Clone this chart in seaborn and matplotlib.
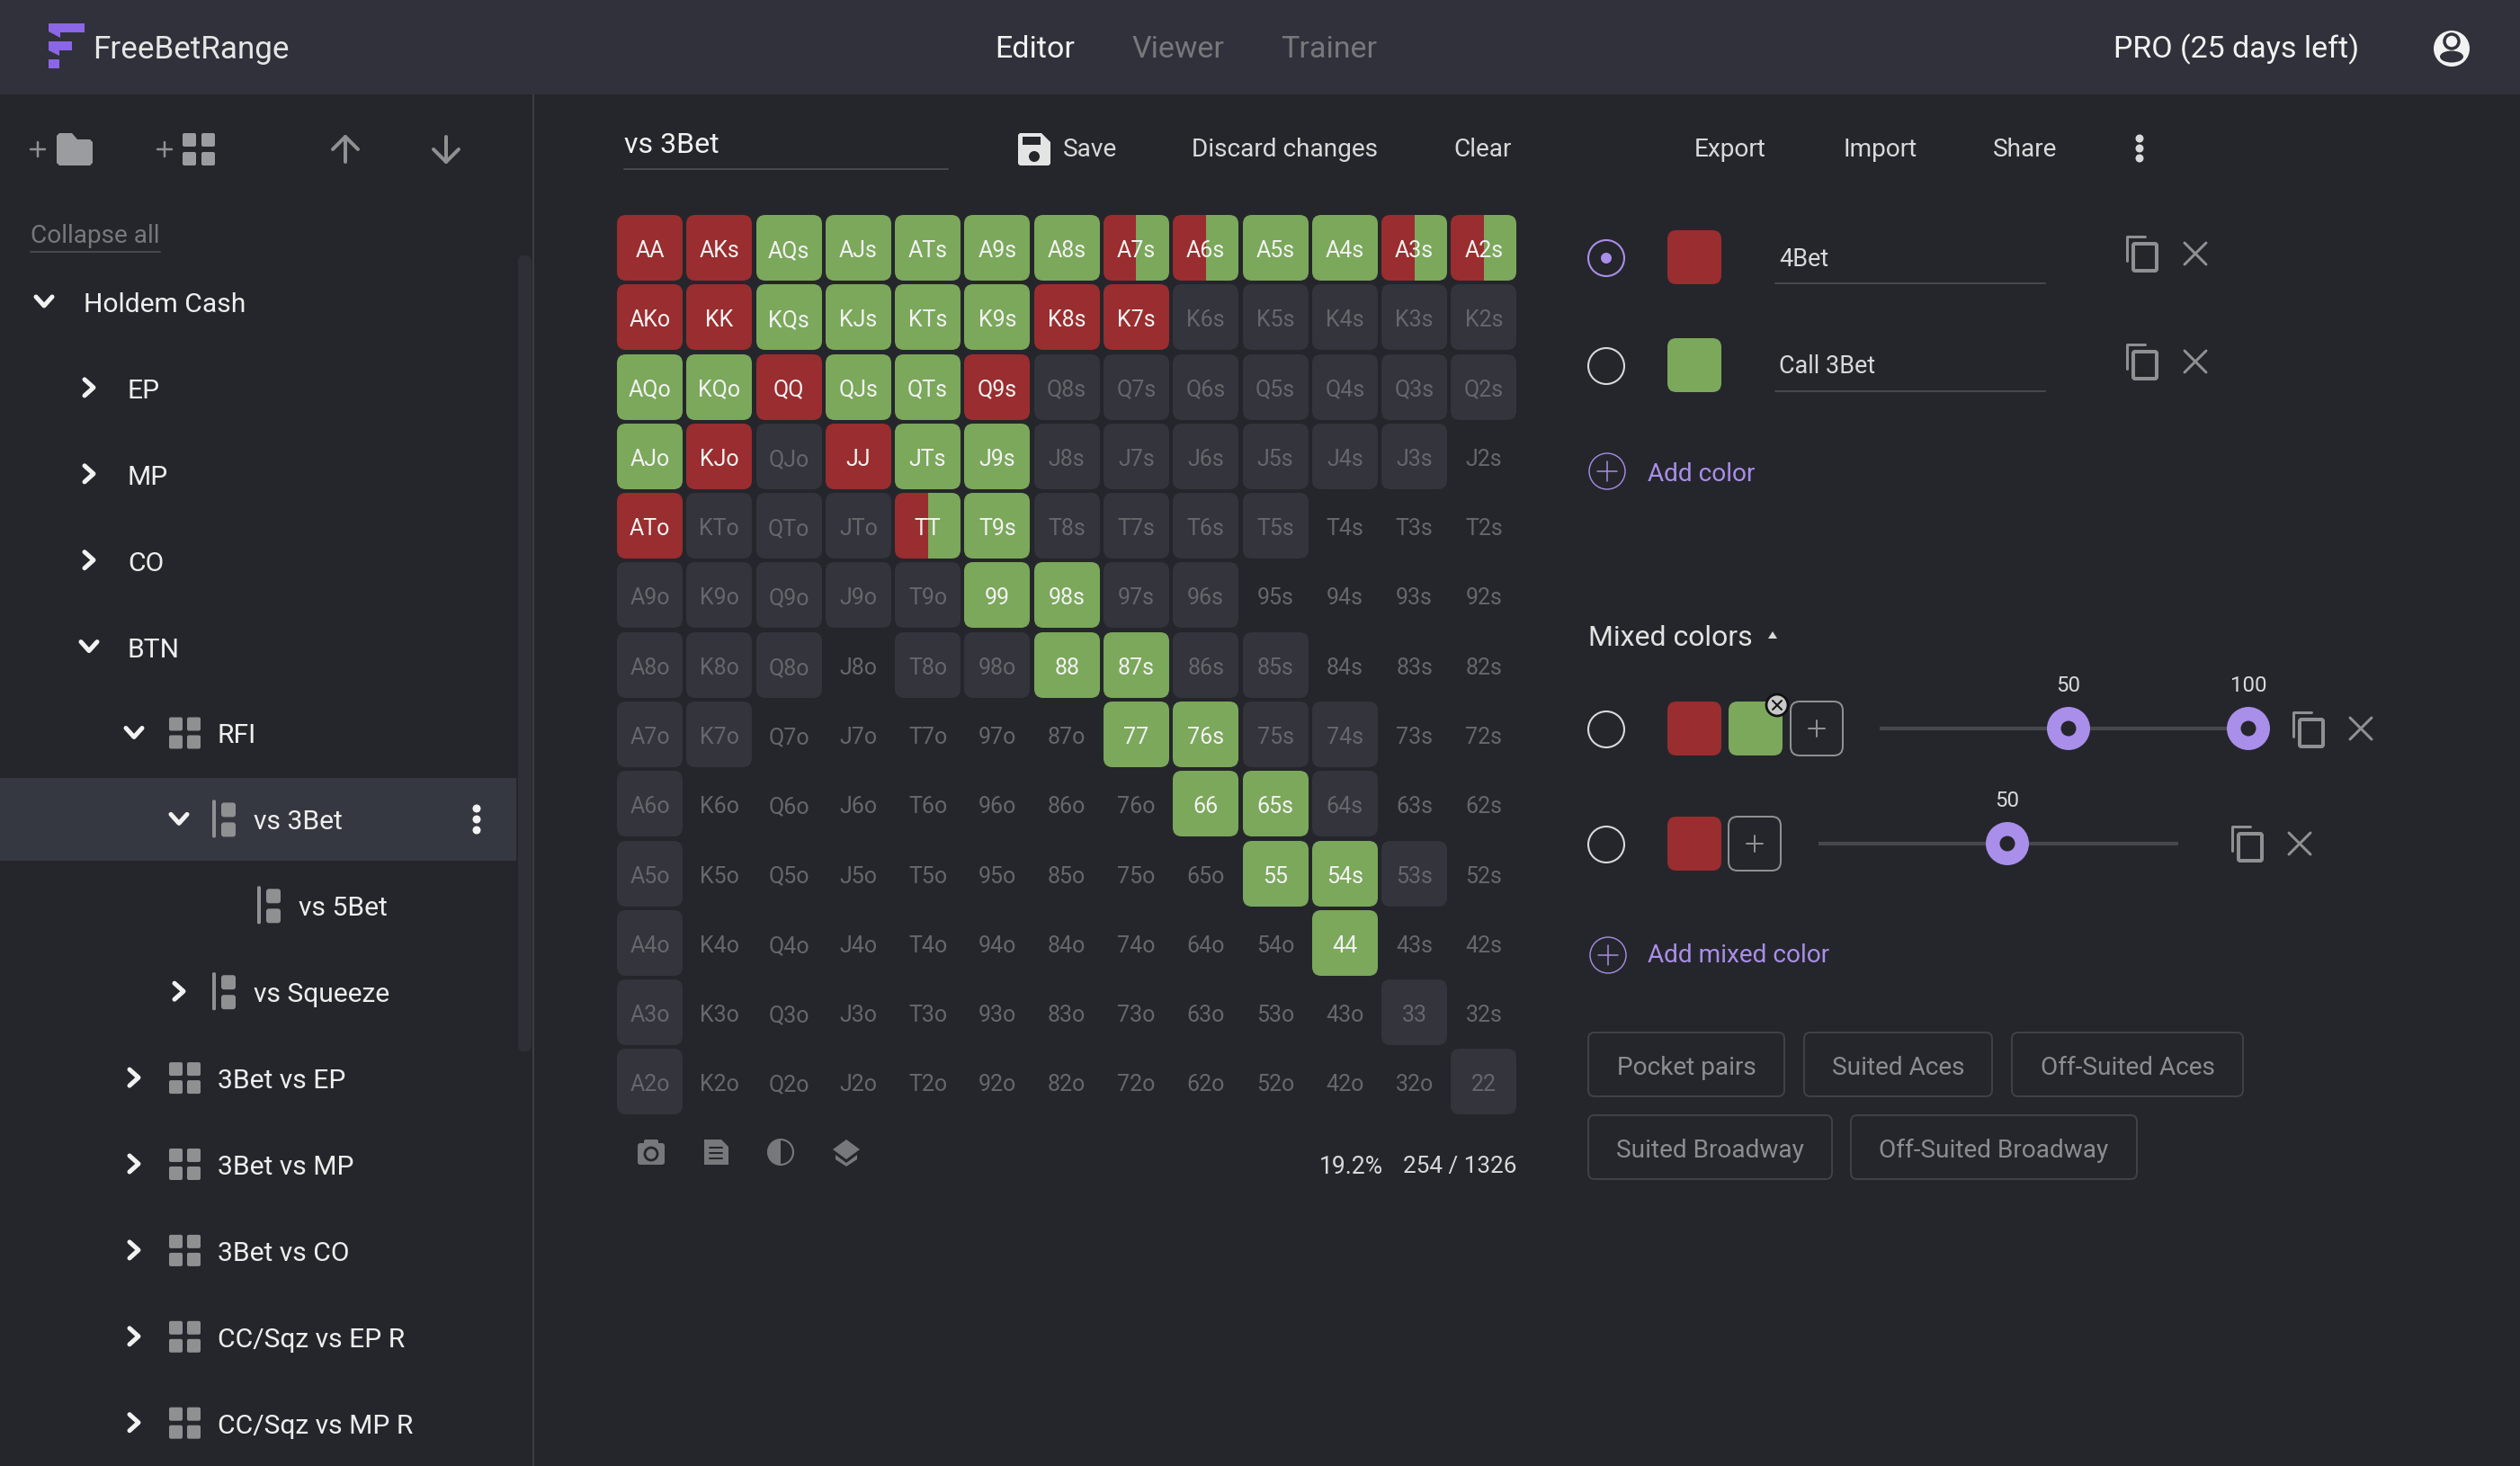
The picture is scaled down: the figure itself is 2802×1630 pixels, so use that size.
"""FreeBetRange range editor – 13x13 poker hand grid with its surrounding UI."""

import numpy as np
import matplotlib
matplotlib.use("Agg")
import matplotlib.pyplot as plt
import seaborn as sns
from matplotlib.colors import ListedColormap
from matplotlib.patches import BoxStyle, Circle, Ellipse, FancyBboxPatch, Polygon, Rectangle, Wedge
from matplotlib.path import Path

# ── Data ─────────────────────────────────────────────────────────────────────
RANKS = ["A", "K", "Q", "J", "T", "9", "8", "7", "6", "5", "4", "3", "2"]

# R = 4Bet, G = Call 3Bet, M = half and half, D = grey cell, . = no cell
GRID_STATES = [
    "RRGGGGGMMGGMM",
    "RRGGGGRRDDDDD",
    "GGRGGRDDDDDDD",
    "GRDRGGDDDDDD.",
    "RDDDMGDDDD...",
    "DDDDDGGDD....",
    "DDD.DDGGDD...",
    "DD.....GGDD..",
    "D.......GGD..",
    "D........GGD.",
    "D.........G..",
    "D..........D.",
    "D...........D",
]

TREE_LABELS = ["Holdem Cash", "EP", "MP", "CO", "BTN", "RFI", "vs 3Bet", "vs 5Bet",
               "vs Squeeze", "3Bet vs EP", "3Bet vs MP", "3Bet vs CO", "CC/Sqz vs EP R",
               "CC/Sqz vs MP R"]
TREE_LEVELS = [0, 1, 1, 1, 1, 2, 3, 4, 3, 2, 2, 2, 2, 2]
TREE_OPEN   = [True, False, False, False, True, True, True, None, False, False, False,
               False, False, False]

NAV_LABELS = ["Editor", "Viewer", "Trainer"]
NAV_X      = [1151, 1310, 1478]

RANGE_NAME = "vs 3Bet"
COLOR_NAMES = ["4Bet", "Call 3Bet"]
SLIDER_ONE = [50, 100]
SLIDER_TWO = [50]
STATS = ["19.2%", "254 / 1326"]
PRESETS_ROW1 = ["Pocket pairs", "Suited Aces", "Off-Suited Aces"]
PRESETS_ROW2 = ["Suited Broadway", "Off-Suited Broadway"]

# ── Colours ──────────────────────────────────────────────────────────────────
BG      = "#25262b"
HEADER  = "#30313a"
ROW_ON  = "#363841"
CELL    = "#33343c"
RED     = "#9a2d2f"
GREEN   = "#7ba85b"
PURPLE  = "#a98eea"
LOGO    = "#8b66e6"
ICON    = "#8f9092"
LINE    = "#47484c"
WHITE   = "#f2f2f2"
SOFT    = "#d8d9da"
DIM     = "#77787c"
CELLTXT = "#66676b"

W, H = 2802, 1631

sns.set_theme(style="dark")
plt.rcParams["font.family"] = ["Roboto", "DejaVu Sans"]

fig = plt.figure(figsize=(W / 100, H / 100), dpi=100, facecolor=BG)
ui = fig.add_axes([0, 0, 1, 1], facecolor=BG)
ui.set_xlim(0, W)
ui.set_ylim(H, 0)
ui.axis("off")


# ── Small drawing helpers (pixel coordinates of the screenshot) ──────────────
def text(x, y, s, size, color=SOFT, ha="left", weight="normal"):
    ui.text(x, y, s, fontsize=size * 0.72, color=color, ha=ha, va="center_baseline",
            fontweight=weight)


def box(x0, y0, x1, y1, r=10, face="none", edge="none", lw=0):
    ui.add_patch(FancyBboxPatch((x0 + r, y0 + r), x1 - x0 - 2 * r, y1 - y0 - 2 * r,
                                boxstyle=f"round,pad={r},rounding_size={r}",
                                facecolor=face, edgecolor=edge, linewidth=lw * 0.72))


def stroke(xs, ys, color=ICON, lw=3):
    ui.plot(xs, ys, color=color, lw=lw * 0.72, solid_capstyle="round", solid_joinstyle="round")


def chevron(x, y, opened, color=WHITE):
    if opened:
        stroke([x - 9, x, x + 9], [y - 5, y + 5, y - 5], color, 5)
    else:
        stroke([x - 5, x + 5, x - 5], [y - 9, y, y + 9], color, 5)


def grid_icon(x, y):
    for dx in (0, 20):
        for dy in (0, 20):
            box(x + dx, y + dy, x + dx + 15, y + dy + 15, r=2, face=ICON)


def split_icon(x, y):
    box(x, y - 21, x + 4, y + 21, r=1.5, face=ICON)
    box(x + 10, y - 18, x + 26, y - 2, r=3, face=ICON)
    box(x + 10, y + 4, x + 26, y + 20, r=3, face=ICON)


def copy_icon(x, y):
    stroke([x, x, x + 20], [y + 27, y, y], ICON, 3)
    box(x + 7, y + 8, x + 33, y + 38, r=2, edge=ICON, lw=4)


def close_icon(x, y, color=ICON, half=12, lw=3):
    stroke([x - half, x + half], [y - half, y + half], color, lw)
    stroke([x - half, x + half], [y + half, y - half], color, lw)


def plus(x, y, half, color=ICON, lw=2):
    stroke([x - half, x + half], [y, y], color, lw)
    stroke([x, x], [y - half, y + half], color, lw)


def radio(x, y, selected=False):
    color = PURPLE if selected else SOFT
    ui.add_patch(Circle((x, y), 20, facecolor="none", edgecolor=color, lw=1.5))
    if selected:
        ui.add_patch(Circle((x, y), 6, facecolor=PURPLE, edgecolor="none"))


# ── Header ───────────────────────────────────────────────────────────────────
ui.add_patch(Rectangle((0, 0), W, 106, facecolor=HEADER, edgecolor="none"))
for pts in (
    [(54, 27), (94, 27), (94, 37), (67, 37), (67, 43), (54, 36)],
    [(54, 47), (80, 47), (80, 57), (66, 57), (66, 63), (54, 57)],
    [(54, 67), (66, 67), (66, 77), (54, 77)],
):
    ui.add_patch(Polygon(pts, closed=True, facecolor=LOGO, edgecolor="none"))
text(103, 52, "FreeBetRange", 35, "#e6e6e6")
for i, (label, x) in enumerate(zip(NAV_LABELS, NAV_X)):
    text(x, 51, label, 34, WHITE if i == 0 else DIM, ha="center")
text(2350, 51, "PRO (25 days left)", 34, WHITE)
ui.add_patch(Circle((2726, 55), 20, facecolor=WHITE, edgecolor="none"))
ui.add_patch(Circle((2726, 47), 8, facecolor=WHITE, edgecolor=HEADER, lw=2.5))
ui.add_patch(Ellipse((2726, 64), 26, 13, facecolor=HEADER, edgecolor="none"))

# ── Sidebar ──────────────────────────────────────────────────────────────────
stroke([593, 593], [106, H], "#3c3d43", 2)
box(576, 285, 591, 1170, r=7, face="#2f3037")

plus(42, 167, 8, ICON, 2.5)
ui.add_patch(Polygon([(66, 149), (80, 149), (86, 156), (100, 156), (103, 159), (103, 182),
                      (100, 185), (66, 185), (63, 182), (63, 152)],
                     closed=True, facecolor="#9b9c9f", edgecolor="none"))
plus(183, 167, 8, ICON, 2.5)
for dx in (0, 21):
    for dy in (0, 21):
        box(203 + dx, 149 + dy, 203 + dx + 15, 149 + dy + 15, r=2, face="#9b9c9f")
stroke([384, 384], [153, 181], ICON, 4)
stroke([370, 384, 398], [167, 153, 167], ICON, 4)
stroke([496, 496], [153, 181], ICON, 4)
stroke([482, 496, 510], [167, 181, 167], ICON, 4)

text(34, 259, "Collapse all", 28, DIM)
stroke([34, 178], [281, 281], LINE, 2)

ui.add_patch(Rectangle((0, 866), 574, 92, facecolor=ROW_ON, edgecolor="none"))
for dot_y in (900, 912, 924):
    ui.add_patch(Circle((530, dot_y), 4.5, facecolor=WHITE, edgecolor="none"))

CHEVRON_X = [49, 99, 149, 199, 249]
ICON_X    = [None, None, 188, 236, 286]
TEXT_X    = [93, 142, 242, 282, 332]
for i, (label, level, opened) in enumerate(zip(TREE_LABELS, TREE_LEVELS, TREE_OPEN)):
    y = 336 + 95.9 * i
    if opened is not None:
        chevron(CHEVRON_X[level], y, opened)
    if level == 2:
        grid_icon(ICON_X[level], y - 17)
    elif level > 2:
        split_icon(ICON_X[level], y)
    text(TEXT_X[level], y, label, 30, "#eeeeee")

# ── Editor toolbar ───────────────────────────────────────────────────────────
text(694, 158, RANGE_NAME, 32, WHITE)
stroke([694, 1054], [189, 189], LINE, 2)
ui.add_patch(Polygon([(1134, 149), (1158, 149), (1168, 159), (1168, 183), (1166, 185),
                      (1134, 185), (1132, 183), (1132, 151)],
                     closed=True, facecolor="#e4e4e4", edgecolor="none"))
ui.add_patch(Rectangle((1137, 153), 20, 9, facecolor=BG, edgecolor="none"))
ui.add_patch(Circle((1150, 175), 6, facecolor=BG, edgecolor="none"))
for x, label in zip((1182, 1325, 1616, 1884, 2049, 2216),
                    ("Save", "Discard changes", "Clear", "Export", "Import", "Share")):
    text(x, 164, label, 28)
for dot_y in (155, 166, 177):
    ui.add_patch(Circle((2379, dot_y), 4.5, facecolor=SOFT, edgecolor="none"))

# ── Hand grid ────────────────────────────────────────────────────────────────
PITCH = 77.28
CELL_W = 73
GRID_X0 = 686 - (PITCH - CELL_W) / 2
GRID_Y0 = 240 - (PITCH - CELL_W) / 2
grid_ax = fig.add_axes([GRID_X0 / W, 1 - (GRID_Y0 + 13 * PITCH) / H,
                        13 * PITCH / W, 13 * PITCH / H])

# every hand takes two heatmap columns, so that mixed hands can split in the middle
left_code  = {".": 0, "D": 1, "R": 2, "G": 3, "M": 2}
right_code = {".": 0, "D": 1, "R": 2, "G": 3, "M": 3}
split_grid = np.array([[code[state] for state in row for code in (left_code, right_code)]
                       for row in GRID_STATES])
sns.heatmap(split_grid, ax=grid_ax, cmap=ListedColormap([BG, CELL, RED, GREEN]), vmin=0, vmax=3,
            cbar=False, xticklabels=False, yticklabels=False, linewidths=0)
grid_ax.patch.set_visible(False)

# round the cells and open the gaps by clipping the heatmap mesh
inset_x = (PITCH - CELL_W) / 2 / PITCH * 2
inset_y = (PITCH - CELL_W) / 2 / PITCH
rounded = BoxStyle.Round(pad=0, rounding_size=1)(0, 0, CELL_W / 10, CELL_W / 10, 1)
scale = np.array([(2 - 2 * inset_x) / CELL_W, (1 - 2 * inset_y) / CELL_W]) * 10
cell_paths = []
for i, row in enumerate(GRID_STATES):
    for j, state in enumerate(row):
        if state == ".":
            continue
        offset = np.array([2 * j + inset_x, i + inset_y])
        cell_paths.append(Path(rounded.vertices * scale + offset, rounded.codes))
grid_ax.collections[0].set_clip_path(Path.make_compound_path(*cell_paths), grid_ax.transData)

for i, first in enumerate(RANKS):
    for j, second in enumerate(RANKS):
        if i == j:
            hand = first + second
        elif i < j:
            hand = first + second + "s"
        else:
            hand = second + first + "o"
        painted = GRID_STATES[i][j] in "RGM"
        grid_ax.text(2 * j + 1, i + 0.5, hand, fontsize=25 * 0.72,
                     color=WHITE if painted else CELLTXT, ha="center", va="center_baseline")

# ── Below the grid ───────────────────────────────────────────────────────────
box(709, 1272, 739, 1296, r=3, face=DIM)
box(716, 1268, 732, 1276, r=2, face=DIM)
ui.add_patch(Circle((724, 1284), 7, facecolor=DIM, edgecolor=BG, lw=2))
ui.add_patch(Polygon([(783, 1268), (802, 1268), (810, 1276), (810, 1296), (783, 1296)],
                     closed=True, facecolor=DIM, edgecolor="none"))
for line_y in (1277, 1283, 1289):
    stroke([789, 803], [line_y, line_y], BG, 2)
ui.add_patch(Circle((868, 1282), 14, facecolor="none", edgecolor=DIM, lw=1.5))
ui.add_patch(Wedge((868, 1282), 14, 90, 270, facecolor=DIM, edgecolor="none"))
ui.add_patch(Polygon([(941, 1268), (956, 1279), (941, 1290), (926, 1279)],
                     closed=True, facecolor=DIM, edgecolor="none"))
ui.add_patch(Polygon([(929, 1285), (941, 1294), (953, 1285), (953, 1290), (941, 1298), (929, 1290)],
                     closed=True, facecolor=DIM, edgecolor="none"))
text(1467, 1295, STATS[0], 26.5, SOFT)
text(1686, 1295, STATS[1], 26, SOFT, ha="right")

# ── Colours panel ────────────────────────────────────────────────────────────
for k, (name, face) in enumerate(zip(COLOR_NAMES, (RED, GREEN))):
    dy = 120 * k
    radio(1786, 288 + dy, selected=k == 0)
    box(1854, 257 + dy, 1914, 317 + dy, face=face)
    text(1978, 285 + dy, name, 27, SOFT)
    stroke([1974, 2274], [316 + dy, 316 + dy], LINE, 2)
    copy_icon(2365, 264 + dy)
    close_icon(2441, 283 + dy)

ui.add_patch(Circle((1787, 525), 20, facecolor="none", edgecolor=PURPLE, lw=1))
plus(1787, 525, 11, PURPLE, 1.5)
text(1832, 525, "Add color", 28, PURPLE)

text(1766, 707, "Mixed colors", 32, "#e2e2e2")
ui.add_patch(Polygon([(1966, 711), (1976, 711), (1971, 703)], closed=True, facecolor=SOFT,
                     edgecolor="none"))

# first mixed colour
radio(1786, 812)
box(1854, 781, 1914, 841, face=RED)
box(1922, 781, 1982, 841, face=GREEN)
ui.add_patch(Circle((1976, 785), 12, facecolor="#c8c8c8", edgecolor="#111111", lw=2))
close_icon(1976, 785, "#111111", half=5, lw=2)
box(1991, 781, 2049, 841, edge=ICON, lw=2)
plus(2020, 811, 9)
copy_icon(2550, 793)
close_icon(2625, 811)

# second mixed colour
radio(1786, 940)
box(1854, 909, 1914, 969, face=RED)
box(1922, 909, 1980, 969, edge=ICON, lw=2)
plus(1951, 939, 9)
copy_icon(2482, 920)
close_icon(2557, 939)


def slider(x0, x1, y, values, xlim):
    sl_ax = fig.add_axes([x0 / W, 1 - (y + 30) / H, (x1 - x0) / W, 60 / H])
    sl_ax.patch.set_visible(False)
    sl_ax.set_xlim(*xlim)
    sl_ax.set_ylim(-1, 1)
    sl_ax.axis("off")
    sl_ax.plot(xlim, [0, 0], color=LINE, lw=3, solid_capstyle="butt", zorder=1)
    zeros = np.zeros(len(values))
    for size, color in ((48, PURPLE), (17, BG)):
        sns.scatterplot(x=values, y=zeros, ax=sl_ax, s=(size * 0.72) ** 2, color=color,
                        edgecolor="none", legend=False, zorder=3, clip_on=False)
    for value in values:
        sl_ax.annotate(str(value), (value, 0), xytext=(0, 35), textcoords="offset points",
                       ha="center", va="center", color=SOFT, fontsize=24 * 0.72)


slider(2090, 2500, 811, SLIDER_ONE, (-2.5, 100))
slider(2022, 2422, 939, SLIDER_TWO, (-2.5, 97.5))

ui.add_patch(Circle((1788, 1063), 20, facecolor="none", edgecolor=PURPLE, lw=1))
plus(1788, 1063, 11, PURPLE, 1.5)
text(1832, 1060, "Add mixed color", 28, PURPLE)

PRESET_EDGES = [[(1766, 1984), (2006, 2215), (2237, 2494)], [(1766, 2037), (2058, 2376)]]
PRESET_Y = [(1149, 1220), (1241, 1312)]
for labels, edges, (y0, y1) in zip((PRESETS_ROW1, PRESETS_ROW2), PRESET_EDGES, PRESET_Y):
    for label, (x0, x1) in zip(labels, edges):
        box(x0, y0, x1, y1, r=7, edge="#404146", lw=2)
        text((x0 + x1) / 2, (y0 + y1) / 2, label, 28, "#8c8d90", ha="center")

fig.savefig("out.png", dpi=100, facecolor=BG)
plt.close(fig)
